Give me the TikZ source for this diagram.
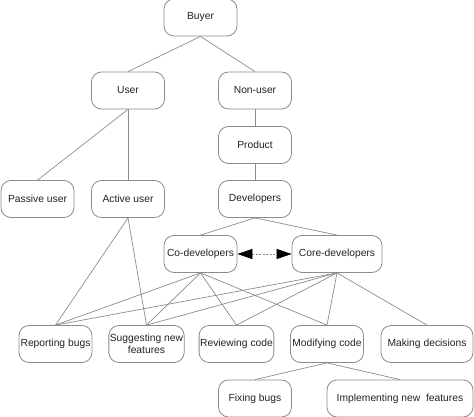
\documentclass[tikz,border=0pt]{standalone}
\usepackage{fontspec}
\setmainfont{Liberation Sans}
\usetikzlibrary{arrows.meta}
\definecolor{edgegray}{HTML}{8C8C8C}
\definecolor{txt}{HTML}{222222}
\tikzset{
  box/.style={draw=edgegray, line width=0.8pt, rounded corners=10pt, minimum height=37pt,
    minimum width=73pt, inner sep=1pt, align=center, font=\fontsize{10.3pt}{11.5pt}\selectfont, text=txt},
  link/.style={draw=edgegray, line width=0.7pt},
}
\begin{document}
\begin{tikzpicture}[x=1pt,y=-1pt]
\useasboundingbox (0,0) rectangle (474,417);
\begin{scope}
\clip (0,0) rectangle (474,417);
\node[box] (buyer) at (200.5,17.5) {Buyer};
\node[box] (user) at (128,90.5) {User};
\node[box] (nonuser) at (255,90.5) {Non-user};
\node[box] (product) at (255,145) {Product};
\node[box] (passive) at (37.5,199) {Passive user};
\node[box] (active) at (128,199) {Active user};
\node[box] (devs) at (255,199) {Developers};
\node[box] (codev) at (200.5,254) {Co-developers};
\node[box, minimum width=90pt] (coredev) at (337,254) {Core-developers};
\node[box] (report) at (55.5,344) {Reporting bugs};
\node[box] (suggest) at (146.5,344) {Suggesting new\\features};
\node[box] (review) at (236.5,344) {Reviewing code};
\node[box] (modify) at (327,344) {Modifying code};
\node[box, minimum width=92pt] (decide) at (427,344) {Making decisions};
\node[box] (fix) at (255,398.5) {Fixing bugs};
\node[box, minimum width=146pt] (implement) at (400,398.5) {Implementing new~ features};

\draw[link] (buyer.south) -- (user.north);
\draw[link] (buyer.south) -- (nonuser.north);
\draw[link] (user.south) -- (passive.north);
\draw[link] (user.south) -- (active.north);
\draw[link] (nonuser.south) -- (product.north);
\draw[link] (product.south) -- (devs.north);
\draw[link] (devs.south) -- (codev.north);
\draw[link] (devs.south) -- (coredev.north);
\draw[link] (active.south) -- (report.north);
\draw[link] (active.south) -- (suggest.north);
\foreach \t in {report,suggest,review,modify}
  \draw[link] (codev.south) -- (\t.north);
\foreach \t in {report,suggest,review,modify,decide}
  \draw[link] (coredev.south) -- (\t.north);
\draw[link] (modify.south) -- (fix.north);
\draw[link] (modify.south) -- (implement.north);
\draw[draw=edgegray, line width=0.6pt, dashed, dash pattern=on 2pt off 1.5pt,
  {Triangle[length=15pt,width=10pt,fill=black,color=black]}-{Triangle[length=15pt,width=10pt,fill=black,color=black]}]
  (codev.east) -- (coredev.west);
\end{scope}
\end{tikzpicture}
\end{document}
